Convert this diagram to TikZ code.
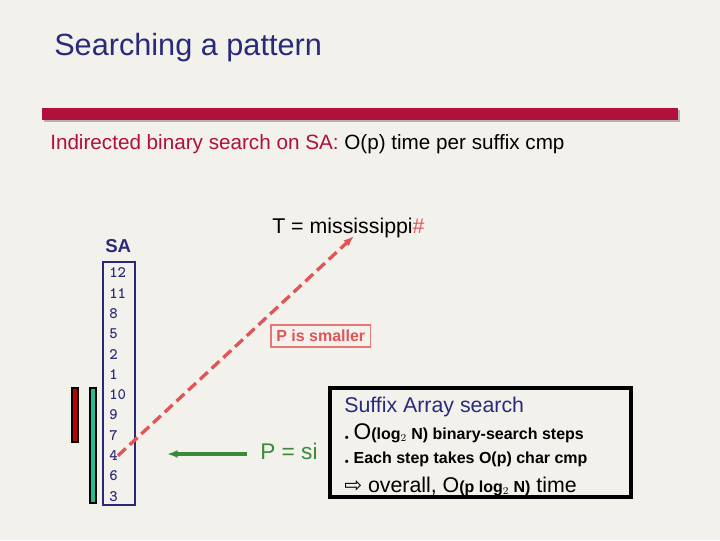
\documentclass[tikz,border=0pt]{standalone}
\usepackage{fontspec}
\setmainfont{Liberation Sans}
\newfontfamily\comic{DejaVu Sans}
\usetikzlibrary{arrows.meta}
\definecolor{bg}{HTML}{F3F1EC}
\definecolor{navy}{HTML}{2A2A7A}
\definecolor{dred}{HTML}{B0103A}
\definecolor{pred}{HTML}{E05555}
\definecolor{gr}{HTML}{3A8A3A}
\definecolor{teal}{HTML}{20C090}
\begin{document}
\begin{tikzpicture}[x=0.75pt,y=-0.75pt,
  num/.style={font=\fontsize{12}{12}\selectfont\ttfamily\bfseries,text=navy,anchor=west,inner sep=0},
  lbl/.style={anchor=west,inner sep=0}]
\fill[bg] (0,0) rectangle (720,540);
\useasboundingbox (0,0) rectangle (720,540);
\node[lbl,text=navy,font=\fontsize{23}{23}\selectfont] (title) at (54,48) {Searching a pattern};
\fill[gray!60] (44,110) rectangle (680,122);
\fill[dred] (42,108) rectangle (678,120);
\node[lbl,font=\fontsize{15.5}{16}\selectfont] (sub) at (50,144) {\textcolor{dred}{Indirected binary search on SA:} O(p) time per suffix cmp};
\node[lbl,text=navy,font=\fontsize{14}{14}\selectfont\bfseries] (sa) at (105,246) {SA};
\draw[navy,line width=2pt] (103,262) rectangle (135,505);
\foreach \v [count=\i] in {12,11,8,5,2,1,10,9,7,4,6,3}
  \node[num] (n\i) at (109,273+20.3*\i-20.3) {\v};
\draw[black,fill=red!75!black,line width=1pt] (72,388) rectangle (78,442);
\draw[black,fill=teal,line width=1pt] (90,388) rectangle (96,503);
\node[lbl,font=\fontsize{16}{16}\selectfont] (T) at (272,228) {T = mississippi\textcolor{pred}{\#}};
\coordinate (tend) at (354,236);
\draw[pred,line width=2.5pt,dash pattern=on 8pt off 4pt,-{Latex[length=8pt]}] (n10.east) -- (tend);
\node[draw=pred!80,line width=1.4pt,text=pred,font=\fontsize{12}{12}\selectfont\bfseries,inner sep=4pt,anchor=west] (ps) at (270,336) {P is smaller};
\node[lbl,text=gr,font=\fontsize{17}{17}\selectfont] (P) at (260,451) {P = si};
\coordinate (pa) at (167,454);
\draw[gr,line width=2.8pt,-{Latex[length=8pt]}] (247,454) -- (pa);
\draw[black,line width=3pt] (330,388) rectangle (631,497);
\node[lbl,text=navy,font=\fontsize{16}{16}\selectfont] (h) at (344,407) {Suffix Array search};
\node[lbl,font=\fontsize{12}{12}\selectfont\bfseries] (b1) at (344,433) {{\tiny$\bullet$} {\mdseries\fontsize{17}{17}\selectfont O}(log$_2$ N) binary-search steps};
\node[lbl,font=\fontsize{12}{12}\selectfont\bfseries] (b2) at (344,459) {{\tiny$\bullet$} Each step takes O(p) char cmp};
\node[lbl,font=\fontsize{16}{16}\selectfont] (b3) at (344,486) {{\comic ⇨} overall, O{\fontsize{12}{12}\selectfont\bfseries(p log$_2$ N)} time};
\end{tikzpicture}
\end{document}
